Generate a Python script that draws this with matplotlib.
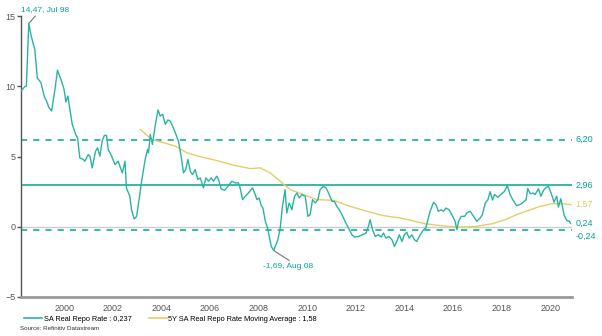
import matplotlib.pyplot as plt
from matplotlib.lines import Line2D

plt.rcParams['font.family'] = ['Liberation Sans', 'DejaVu Sans']

# SA real repo rate (decimal year, %)
rate_x = [
    1998.22, 1998.38, 1998.44, 1998.54, 1998.65, 1998.79, 1998.89, 1999.04, 1999.18, 1999.27,
    1999.37, 1999.48, 1999.62, 1999.72, 1999.86, 1999.99, 2000.07, 2000.15, 2000.21, 2000.33,
    2000.47, 2000.55, 2000.64, 2000.78, 2000.85, 2000.99, 2001.06, 2001.15, 2001.29, 2001.37,
    2001.47, 2001.56, 2001.65, 2001.74, 2001.81, 2001.95, 2002.09, 2002.22, 2002.39, 2002.50,
    2002.56, 2002.70, 2002.77, 2002.88, 2002.98, 2003.08, 2003.19, 2003.33, 2003.43, 2003.47,
    2003.54, 2003.63, 2003.74, 2003.86, 2003.95, 2004.05, 2004.16, 2004.27, 2004.36, 2004.46,
    2004.57, 2004.70, 2004.81, 2004.91, 2005.00, 2005.09, 2005.19, 2005.28, 2005.39, 2005.50,
    2005.60, 2005.73, 2005.83, 2005.94, 2006.05, 2006.14, 2006.28, 2006.35, 2006.46, 2006.60,
    2006.74, 2006.90, 2007.04, 2007.17, 2007.24, 2007.34, 2007.45, 2007.58, 2007.75, 2007.86,
    2007.93, 2008.02, 2008.11, 2008.18, 2008.27, 2008.38, 2008.52, 2008.62, 2008.79, 2008.89,
    2008.98, 2009.09, 2009.16, 2009.26, 2009.37, 2009.48, 2009.58, 2009.67, 2009.78, 2009.92,
    2010.03, 2010.12, 2010.22, 2010.33, 2010.44, 2010.53, 2010.67, 2010.78, 2010.88, 2011.02,
    2011.12, 2011.22, 2011.32, 2011.43, 2011.56, 2011.70, 2011.84, 2011.95, 2012.11, 2012.28,
    2012.42, 2012.52, 2012.59, 2012.69, 2012.80, 2012.93, 2013.05, 2013.14, 2013.24, 2013.37,
    2013.49, 2013.59, 2013.69, 2013.79, 2013.90, 2014.00, 2014.10, 2014.20, 2014.31, 2014.42,
    2014.51, 2014.65, 2014.79, 2014.88, 2014.97, 2015.06, 2015.20, 2015.30, 2015.40, 2015.51,
    2015.61, 2015.71, 2015.84, 2015.95, 2016.09, 2016.16, 2016.23, 2016.34, 2016.48, 2016.57,
    2016.71, 2016.85, 2016.98, 2017.12, 2017.21, 2017.33, 2017.44, 2017.53, 2017.63, 2017.71,
    2017.85, 2017.98, 2018.12, 2018.24, 2018.35, 2018.46, 2018.62, 2018.79, 2018.93, 2019.01,
    2019.08, 2019.18, 2019.29, 2019.38, 2019.52, 2019.62, 2019.73, 2019.84, 2019.93, 2020.07,
    2020.16, 2020.27, 2020.34, 2020.44, 2020.50, 2020.58, 2020.68, 2020.79, 2020.84,
]
rate_y = [
    9.66, 9.98, 10.0, 14.47, 13.5, 12.6, 10.6, 10.26, 9.26, 8.95,
    8.48, 8.24, 9.79, 11.14, 10.5, 9.8, 8.88, 9.3, 8.6, 7.29,
    6.57, 6.33, 4.9, 4.79, 4.67, 5.14, 5.0, 4.19, 5.38, 5.62,
    5.02, 6.1, 6.5, 6.5, 5.5, 5.02, 4.43, 4.67, 3.83, 4.67,
    2.76, 2.17, 1.21, 0.55, 0.74, 1.93, 3.3, 4.79, 5.5, 5.26,
    6.57, 5.86, 7.16, 8.31, 7.88, 8.0, 7.29, 7.6, 7.52, 7.16,
    6.69, 6.1, 5.02, 3.83, 4.07, 4.79, 3.95, 3.71, 4.07, 3.36,
    3.48, 2.76, 3.48, 3.24, 3.48, 3.24, 3.6, 3.36, 2.69, 2.59,
    2.88, 3.24, 3.12, 3.12, 2.76, 1.93, 2.17, 2.4, 2.76, 2.3,
    1.93, 2.05, 1.5, 1.33, 0.45, -0.17, -1.4, -1.69, -0.93, -0.1,
    1.45, 2.64, 0.98, 1.69, 1.21, 2.17, 2.4, 2.05, 2.29, 2.17,
    0.74, 0.86, 1.93, 1.69, 1.93, 2.64, 2.88, 2.76, 2.4, 1.81,
    1.81, 1.45, 1.21, 0.86, 0.38, -0.1, -0.57, -0.74, -0.69, -0.57,
    -0.45, 0.02, 0.5, -0.21, -0.69, -0.57, -0.74, -0.45, -0.81, -0.69,
    -0.93, -1.4, -1.05, -0.57, -1.05, -0.57, -0.4, -0.81, -0.57, -0.93,
    -1.05, -0.57, -0.21, -0.1, 0.5, 1.1, 1.74, 1.57, 1.1, 1.21,
    1.1, 1.33, 1.21, 0.86, 0.38, -0.21, 0.38, 0.74, 0.74, 0.98,
    1.1, 0.74, 0.38, 0.62, 0.86, 1.69, 1.93, 2.5, 1.9, 2.3,
    2.1, 2.3, 2.52, 2.93, 2.3, 1.93, 1.5, 1.6, 1.8, 1.93,
    2.72, 2.35, 2.4, 2.29, 2.7, 2.17, 2.6, 2.8, 2.88, 2.25,
    1.75, 2.17, 1.4, 2.0, 1.5, 0.8, 0.45, 0.38, 0.24,
]

# 5-year moving average
ma_x = [
    2003.13, 2003.6, 2004.09, 2004.57, 2005.05, 2005.6, 2006.28, 2006.97, 2007.65, 2008.07,
    2008.48, 2008.89, 2009.3, 2009.85, 2010.4, 2011.08, 2011.77, 2012.46, 2013.14, 2013.83,
    2014.17, 2014.86, 2015.54, 2016.23, 2016.91, 2017.6, 2018.15, 2018.62, 2019.58, 2020.07,
    2020.55, 2020.85,
]
ma_y = [
    6.93, 6.21, 5.98, 5.74, 5.26, 4.98, 4.71, 4.38, 4.14, 4.19,
    3.83, 3.24, 2.64, 2.29, 1.93, 1.88, 1.45, 1.1, 0.79, 0.62,
    0.5, 0.21, 0.07, -0.03, 0.02, 0.21, 0.5, 0.86, 1.45, 1.64,
    1.64, 1.57,
]

mean_plus_sd = 6.20
mean_rate = 2.96
mean_minus_sd = -0.24
last_rate = 0.24
last_ma = 1.57

years = list(range(2000, 2021, 2))
yticks = [-5, 0, 5, 10, 15]

teal = '#2ab3a3'
teal_dark = '#00a595'
gold = '#e5cc6a'
grey_txt = '#555555'

fig = plt.figure(figsize=(6.02, 3.36), dpi=100)
ax = fig.add_axes([21 / 602, 1 - 297 / 336, 551 / 602, 281 / 336])

ax.axhline(0, color='#cccccc', lw=1.0, zorder=1)
ax.axhline(mean_plus_sd, color=teal_dark, lw=1.1, ls=(0, (4, 4)), zorder=2)
ax.axhline(mean_rate, color=teal, lw=1.3, zorder=2)
ax.axhline(mean_minus_sd, color=teal_dark, lw=1.1, ls=(0, (4, 4)), zorder=2)

ax.plot(ma_x, ma_y, color=gold, lw=1.0, zorder=3)
ax.plot(rate_x, rate_y, color=teal, lw=1.0, zorder=4)

ax.set_xlim(1998.22, 2020.9)
ax.set_ylim(-5, 15)
ax.set_xticks(years)
ax.set_xticklabels([str(y) for y in years])
ax.set_yticks(yticks)

for s in ['top', 'right']:
    ax.spines[s].set_visible(False)
ax.spines['left'].set_color('#555555')
ax.spines['left'].set_linewidth(1.0)
ax.spines['bottom'].set_color('#999999')
ax.spines['bottom'].set_linewidth(2.0)
ax.tick_params(axis='y', length=3, width=1, color='#555555', labelsize=6.5,
               labelcolor=grey_txt, pad=1)
ax.tick_params(axis='x', length=0, labelsize=6.5, labelcolor=grey_txt, pad=5)

# right-hand value labels
lbl = dict(transform=ax.get_yaxis_transform(), fontsize=6.5, ha='left', va='center',
           clip_on=False)
ax.text(1.006, mean_plus_sd, '6,20', color=teal_dark, **lbl)
ax.text(1.006, mean_rate, '2,96', color=teal_dark, **lbl)
ax.text(1.006, last_ma, '1,57', color=gold, **lbl)
ax.text(1.006, 0.22, '0,24', color=teal_dark, **lbl)
ax.text(1.006, -0.65, '-0,24', color=teal_dark, **lbl)

# max / min annotations
ax.annotate('14,47, Jul 98', xy=(1998.54, 14.47), xytext=(1998.22, 15.2),
            fontsize=6, color=teal_dark, ha='left', va='bottom',
            arrowprops=dict(arrowstyle='-', color='#777777', lw=0.8,
                            shrinkA=0, shrinkB=0, relpos=(0.35, 0)),
            annotation_clip=False)
ax.annotate('-1,69, Aug 08', xy=(2008.62, -1.69), xytext=(2008.2, -2.6),
            fontsize=6, color=teal_dark, ha='left', va='top',
            arrowprops=dict(arrowstyle='-', color='#777777', lw=0.8,
                            shrinkA=0, shrinkB=0, relpos=(0.6, 1)),
            annotation_clip=False)

handles = [Line2D([], [], color=teal, lw=1.2), Line2D([], [], color=gold, lw=1.2)]
labels = ['SA Real Repo Rate : 0,237', '5Y SA Real Repo Rate Moving Average : 1,58']
fig.legend(handles, labels, loc='center left', bbox_to_anchor=(24 / 602, 1 - 319 / 336),
           ncol=2, frameon=False, fontsize=5.3, handlelength=2.5, handletextpad=0.2,
           columnspacing=2.3, borderaxespad=0, borderpad=0)

fig.text(20 / 602, 1 - 329 / 336, 'Source: Refinitiv Datastream', fontsize=4.5,
         color='#333333', ha='left', va='center')

fig.savefig('out.png', dpi=100)
